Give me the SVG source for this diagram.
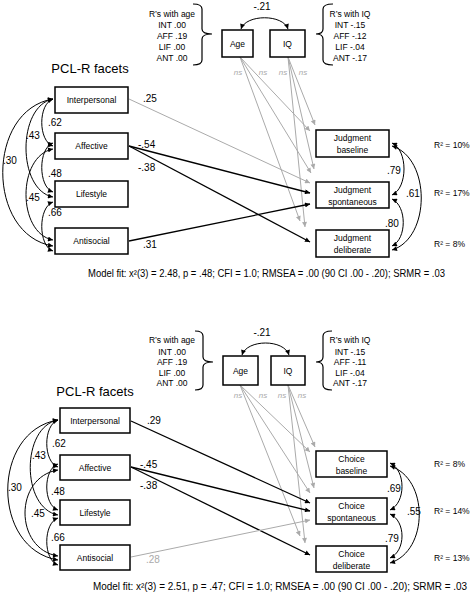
<svg xmlns="http://www.w3.org/2000/svg" width="474" height="592" viewBox="0 0 474 592">
<style>
text{font-family:"Liberation Sans",Arial,sans-serif;fill:#000}
.box{fill:#fff;stroke:#000;stroke-width:1.5}
.bt{font-size:8.5px;text-anchor:middle}
.lb{font-size:10px}
.sm{font-size:8.5px;text-anchor:middle}
.r2{font-size:8.5px}
.ttl{font-size:13px;text-anchor:middle}
.ns{font-size:8px;font-style:italic;fill:#aaa;text-anchor:middle}
.fit{font-size:10px}
.blk{stroke:#000;stroke-width:1.3;fill:none;marker-end:url(#ah)}
.gry{stroke:#aaa;stroke-width:1;fill:none;marker-end:url(#ahg)}
.cov{stroke:#000;stroke-width:1;fill:none;marker-start:url(#ah);marker-end:url(#ah)}
.br{stroke:#000;stroke-width:1.2;fill:none}
</style>
<defs>
<marker id="ah" markerUnits="userSpaceOnUse" markerWidth="6" markerHeight="5" viewBox="0 0 10 10" refX="10" refY="5" orient="auto-start-reverse"><path d="M0,0 L10,5 L0,10 z" fill="#000"/></marker>
<marker id="ahg" markerUnits="userSpaceOnUse" markerWidth="6" markerHeight="5" viewBox="0 0 10 10" refX="10" refY="5" orient="auto-start-reverse"><path d="M0,0 L10,5 L0,10 z" fill="#aaa"/></marker>
</defs>

<!-- ===== TOP PANEL ===== -->
<g id="top-connectors">
<path class="gry" d="M240,57 L310,131"/>
<path class="gry" d="M240,57 L311,173"/>
<path class="gry" d="M240,57 L300,221"/>
<path class="gry" d="M288,57 L315,125"/>
<path class="gry" d="M288,57 L314,169"/>
<path class="gry" d="M288,57 L305,227"/>
<path class="gry" d="M129,99 L310,183"/>
<path class="blk" d="M129,146 L310,193"/>
<path class="blk" d="M129,146 L310,242"/>
<path class="blk" d="M129,241 L310,204"/>
<path class="cov" d="M241,29 C246,14 283,14 288,29"/>
<path class="cov" d="M53,99 C38,104 38,141 53,146"/>
<path class="cov" d="M53,99 C17,106 17,190 53,197"/>
<path class="cov" d="M53,99 C-14,110 -14,235 53,246"/>
<path class="cov" d="M53,143 C38,148 38,187 53,192"/>
<path class="cov" d="M53,149 C17,156 17,233 53,240"/>
<path class="cov" d="M53,202 C38,207 38,246 53,251"/>
<path class="cov" d="M392,143 C408,150 408,188 392,195"/>
<path class="cov" d="M392,146 C431,158 431,238 392,250"/>
<path class="cov" d="M392,199 C407,206 407,239 392,246"/>
</g>
<g id="top-age"><rect class="box" x="222" y="30" width="31" height="27"/><text class="bt" x="237.5" y="46.5">Age</text></g>
<g id="top-iq"><rect class="box" x="270" y="30" width="35" height="27"/><text class="bt" x="287.5" y="46.5">IQ</text></g>
<g id="top-int"><rect class="box" x="55" y="87" width="73" height="26"/><text class="bt" x="91.5" y="103">Interpersonal</text></g>
<g id="top-aff"><rect class="box" x="55" y="133" width="73" height="26"/><text class="bt" x="91.5" y="149">Affective</text></g>
<g id="top-lif"><rect class="box" x="55" y="181" width="73" height="26"/><text class="bt" x="91.5" y="197">Lifestyle</text></g>
<g id="top-ant"><rect class="box" x="55" y="228" width="73" height="26"/><text class="bt" x="91.5" y="244">Antisocial</text></g>
<g id="top-jb"><rect class="box" x="316" y="130" width="73" height="27"/><text class="bt" x="352.5" y="141">Judgment</text><text class="bt" x="352.5" y="153">baseline</text></g>
<g id="top-js"><rect class="box" x="316" y="182" width="73" height="26"/><text class="bt" x="352.5" y="192.5">Judgment</text><text class="bt" x="352.5" y="204.5">spontaneous</text></g>
<g id="top-jd"><rect class="box" x="316" y="230" width="73" height="27"/><text class="bt" x="352.5" y="241">Judgment</text><text class="bt" x="352.5" y="253">deliberate</text></g>

<g id="top-labels">
<text class="lb" x="262" y="10" text-anchor="middle">-.21</text>
<text class="sm" x="172" y="17">R’s with age</text>
<text class="sm" x="172" y="28">INT .00</text>
<text class="sm" x="172" y="39">AFF .19</text>
<text class="sm" x="172" y="50">LIF .00</text>
<text class="sm" x="172" y="61">ANT .00</text>
<path class="br" d="M193,4 Q202,4 202,9 V29 Q202,34 212,34 Q202,34 202,39 V60 Q202,65 193,65"/>
<text class="sm" x="350" y="17">R’s with IQ</text>
<text class="sm" x="350" y="28">INT -.15</text>
<text class="sm" x="350" y="39">AFF -.12</text>
<text class="sm" x="350" y="50">LIF -.04</text>
<text class="sm" x="350" y="61">ANT -.17</text>
<path class="br" d="M333,4 Q323,4 323,9 V29 Q323,34 316,34 Q323,34 323,39 V60 Q323,65 333,65"/>
<text class="ns" x="238" y="75">ns</text>
<text class="ns" x="263" y="75">ns</text>
<text class="ns" x="283" y="75">ns</text>
<text class="ns" x="303" y="75">ns</text>
<text class="ttl" x="90" y="73">PCL-R facets</text>
<text class="lb" x="143" y="102">.25</text>
<text class="lb" x="138" y="148">-.54</text>
<text class="lb" x="138" y="171">-.38</text>
<text class="lb" x="143" y="248">.31</text>
<text class="lb" x="48" y="126">.62</text>
<text class="lb" x="26" y="139">.43</text>
<text class="lb" x="3" y="164">.30</text>
<text class="lb" x="48" y="177">.48</text>
<text class="lb" x="26" y="201">.45</text>
<text class="lb" x="48" y="216">.66</text>
<text class="lb" x="387" y="174">.79</text>
<text class="lb" x="406" y="197">.61</text>
<text class="lb" x="385" y="227">.80</text>
<text class="r2" x="434" y="148">R² = 10%</text>
<text class="r2" x="434" y="196">R² = 17%</text>
<text class="r2" x="434" y="247">R² = 8%</text>
<text class="fit" x="88" y="277" textLength="357" lengthAdjust="spacingAndGlyphs">Model fit:  x²(3) = 2.48, p = .48; CFI = 1.0; RMSEA = .00 (90 CI .00 - .20); SRMR = .03</text>
</g>

<!-- ===== BOTTOM PANEL ===== -->
<g id="bot-connectors">
<path class="gry" d="M240,385 L310,452"/>
<path class="gry" d="M240,385 L310,493"/>
<path class="gry" d="M240,385 L300,536"/>
<path class="gry" d="M288,385 L315,447"/>
<path class="gry" d="M288,385 L314,488"/>
<path class="gry" d="M288,385 L305,543"/>
<path class="blk" d="M131,421 L310,503"/>
<path class="blk" d="M131,467 L310,511"/>
<path class="blk" d="M131,467 L310,555"/>
<path class="gry" d="M131,557 L310,520"/>
<path class="cov" d="M242,355 C247,339 284,339 289,355"/>
<path class="cov" d="M58,420 C43,425 43,462 58,467"/>
<path class="cov" d="M58,420 C21,427 21,508 58,515"/>
<path class="cov" d="M58,420 C-9,431 -9,549 58,560"/>
<path class="cov" d="M58,464 C43,469 43,505 58,510"/>
<path class="cov" d="M58,470 C14,477 14,549 58,556"/>
<path class="cov" d="M58,518 C43,523 43,560 58,565"/>
<path class="cov" d="M390,463 C406,470 406,503 390,510"/>
<path class="cov" d="M390,466 C429,478 429,551 390,563"/>
<path class="cov" d="M390,514 C406,521 406,551 390,558"/>
</g>
<g id="bot-age"><rect class="box" x="223" y="356" width="35" height="29"/><text class="bt" x="240.5" y="373.5">Age</text></g>
<g id="bot-iq"><rect class="box" x="271" y="356" width="34" height="29"/><text class="bt" x="288" y="373.5">IQ</text></g>
<g id="bot-int"><rect class="box" x="60" y="408" width="70" height="25"/><text class="bt" x="95" y="423.5">Interpersonal</text></g>
<g id="bot-aff"><rect class="box" x="60" y="455" width="70" height="25"/><text class="bt" x="95" y="470.5">Affective</text></g>
<g id="bot-lif"><rect class="box" x="60" y="500" width="70" height="25"/><text class="bt" x="95" y="515.5">Lifestyle</text></g>
<g id="bot-ant"><rect class="box" x="60" y="545" width="70" height="25"/><text class="bt" x="95" y="560.5">Antisocial</text></g>
<g id="bot-cb"><rect class="box" x="316" y="451" width="71" height="26"/><text class="bt" x="351.5" y="461.5">Choice</text><text class="bt" x="351.5" y="473.5">baseline</text></g>
<g id="bot-cs"><rect class="box" x="316" y="498" width="71" height="26"/><text class="bt" x="351.5" y="508.5">Choice</text><text class="bt" x="351.5" y="520.5">spontaneous</text></g>
<g id="bot-cd"><rect class="box" x="316" y="546" width="71" height="26"/><text class="bt" x="351.5" y="556.5">Choice</text><text class="bt" x="351.5" y="568.5">deliberate</text></g>

<g id="bot-labels">
<text class="lb" x="262" y="336" text-anchor="middle">-.21</text>
<text class="sm" x="172" y="343">R’s with age</text>
<text class="sm" x="172" y="354.5">INT .00</text>
<text class="sm" x="172" y="365">AFF .19</text>
<text class="sm" x="172" y="375.5">LIF .00</text>
<text class="sm" x="172" y="386">ANT .00</text>
<path class="br" d="M195,331 Q203,331 203,336 V357 Q203,362 213,362 Q203,362 203,367 V385 Q203,390 195,390"/>
<text class="sm" x="350" y="343">R’s with IQ</text>
<text class="sm" x="350" y="354.5">INT -.15</text>
<text class="sm" x="350" y="365">AFF -.11</text>
<text class="sm" x="350" y="375.5">LIF -.04</text>
<text class="sm" x="350" y="386">ANT -.17</text>
<path class="br" d="M332,331 Q323,331 323,336 V357 Q323,362 316,362 Q323,362 323,367 V385 Q323,390 332,390"/>
<text class="ns" x="238" y="398">ns</text>
<text class="ns" x="263" y="398">ns</text>
<text class="ns" x="282" y="398">ns</text>
<text class="ns" x="302" y="398">ns</text>
<text class="ttl" x="95" y="396">PCL-R facets</text>
<text class="lb" x="147" y="424">.29</text>
<text class="lb" x="140" y="468">-.45</text>
<text class="lb" x="140" y="489">-.38</text>
<text class="lb" x="146" y="563" style="fill:#aaa">.28</text>
<text class="lb" x="52" y="447">.62</text>
<text class="lb" x="32" y="459">.43</text>
<text class="lb" x="8" y="491">.30</text>
<text class="lb" x="51" y="495">.48</text>
<text class="lb" x="31" y="517">.45</text>
<text class="lb" x="51" y="541">.66</text>
<text class="lb" x="387" y="492">.69</text>
<text class="lb" x="407" y="515">.55</text>
<text class="lb" x="385" y="542">.79</text>
<text class="r2" x="434" y="467">R² = 8%</text>
<text class="r2" x="434" y="514">R² = 14%</text>
<text class="r2" x="434" y="561">R² = 13%</text>
<text class="fit" x="93" y="590" textLength="374" lengthAdjust="spacingAndGlyphs">Model fit: x²(3) = 2.51, p = .47; CFI = 1.0; RMSEA = .00 (90 CI .00 - .20); SRMR = .03</text>
</g>
</svg>
